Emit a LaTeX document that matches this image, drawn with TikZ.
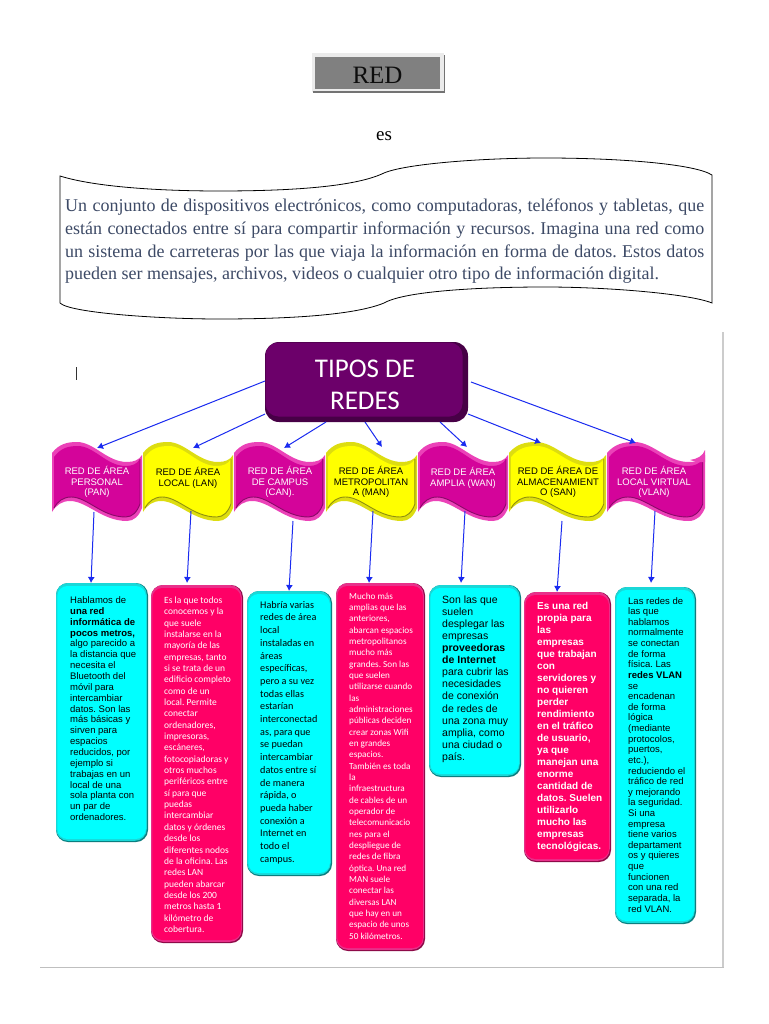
\documentclass[tikz,border=0pt]{standalone}
\usepackage{fontspec}
\setmainfont{Liberation Serif}
\newfontfamily\arialf{Liberation Sans}
\newfontfamily\calif{Carlito}
\usetikzlibrary{arrows.meta}
\frenchspacing
\definecolor{cymain}{HTML}{00FFFF}
\definecolor{cyedge}{HTML}{19D8D8}
\definecolor{cydark}{HTML}{0A7F80}
\definecolor{pkmain}{HTML}{FF0066}
\definecolor{pkedge}{HTML}{E8308A}
\definecolor{pkdark}{HTML}{8E0A48}
\definecolor{mgmain}{HTML}{D4049A}
\definecolor{mgedge}{HTML}{EB42B8}
\definecolor{mgdark}{HTML}{8A0A68}
\definecolor{ylmain}{HTML}{FFFF00}
\definecolor{yledge}{HTML}{DDDD10}
\definecolor{yldark}{HTML}{8F8F10}
\definecolor{arrowblue}{HTML}{1A2BF0}
\definecolor{slatetext}{HTML}{3D4A66}
\definecolor{tiposmain}{HTML}{6C006A}
\definecolor{tiposdark}{HTML}{470046}
\tikzset{
  arr/.style={draw=arrowblue,line width=1pt,-{Latex[length=6pt,width=7pt]}},
  bodyA/.style={anchor=north west,inner sep=0pt,align=left,text=black},
  bodyW/.style={anchor=north west,inner sep=0pt,align=left,text=white},
  bannertext/.style={inner sep=0pt,align=center,font={\arialf\fontsize{9.5}{10.6}\selectfont}},
  boxcore/.style={rounded corners=12pt,inner sep=0pt,outer sep=0pt},
}
% rounded box: name,x0,y0,x1,y1,colour prefix
\newcommand\rbox[6]{%
  \pgfmathsetmacro\rw{#4-#2}\pgfmathsetmacro\rh{#5-#3}%
  \pgfmathsetmacro\rcx{(#2+#4)/2}\pgfmathsetmacro\rcy{(#3+#5)/2}%
  \node[boxcore,fill=#6dark,minimum width=\rw pt,minimum height=\rh pt] (#1) at (\rcx,\rcy) {};
  \pgfmathsetmacro\rw{#4-#2-1.2}\pgfmathsetmacro\rh{#5-#3-1.2}%
  \node[boxcore,fill=#6edge,minimum width=\rw pt,minimum height=\rh pt] at (\rcx-0.6,\rcy-0.6) {};
  \pgfmathsetmacro\rw{#4-#2-3.5}\pgfmathsetmacro\rh{#5-#3-6}%
  \node[boxcore,rounded corners=10pt,fill=#6main,minimum width=\rw pt,minimum height=\rh pt] at (\rcx-0.4,\rcy) {};
}
% wave outline in a 90-wide local frame; #1 inset of the top edge, #2 inset of the bottom edge
\newcommand\wavepath[2]{(0,11+#1) .. controls (7,2+#1) and (15,0+#1) .. (25,0+#1) .. controls (42,0+#1) and (55,20+#1) .. (75,20+#1) .. controls (82,20+#1) and (87,18+#1) .. (90,13+#1) -- (90,66-#2) .. controls (87,74-#2) and (82,79-#2) .. (75,79-#2) .. controls (50,79-#2) and (35,59-#2) .. (18,59-#2) .. controls (10,59-#2) and (4,63-#2) .. (0,70-#2) -- cycle}
% banner: x0,x1,colour prefix
\newcommand\banner[3]{%
  \pgfmathsetmacro\bs{(#2-#1)/90}%
  \begin{scope}[shift={(#1,442)},xscale=\bs]
    \fill[#3edge] \wavepath{0}{0};
    \begin{scope}[xshift=2pt,xscale=0.955]
      \fill[#3main] \wavepath{4}{4};
      \draw[#3dark,line width=0.9pt] (90,17) -- (90,62) .. controls (87,70) and (82,75) .. (75,75) .. controls (50,75) and (35,55) .. (18,55) .. controls (10,55) and (4,59) .. (0,66);
    \end{scope}
  \end{scope}
}
\begin{document}
\begin{tikzpicture}[x=1pt,y=-1pt]
\useasboundingbox (0,0) rectangle (768,1024);
\fill[white] (0,0) rectangle (768,1024);

% page frame of the lower picture
\fill[black!20] (722.3,332) rectangle (724,968);
\fill[black!25] (40,966.6) rectangle (724,968.2);

% RED
\fill[black!8] (311.5,53) rectangle (444,92);
\fill[black!55] (313,91.5) rectangle (445,93.5);
\fill[black!55] (443.5,55) rectangle (445,93.5);
\node[fill=black!50,minimum width=125pt,minimum height=32pt,inner sep=0pt] (redbg) at (377.5,73) {};
\node[font={\fontsize{25}{27}\selectfont},text=black!95,inner sep=0pt] (red) at (377.5,75) {RED};
\node[font={\fontsize{19}{21}\selectfont}] (es) at (384,136) {es};

% scroll
\draw[line width=0.8pt,fill=white] (60,176)
  .. controls (95,187) and (160,191) .. (219,191)
  .. controls (290,191) and (355,187) .. (384,173)
  .. controls (405,164) and (480,158) .. (545,158)
  .. controls (620,158) and (695,164) .. (712,175)
  -- (712,303)
  .. controls (690,294) and (610,287) .. (545,287)
  .. controls (480,287) and (405,291) .. (384,303)
  .. controls (355,315) and (290,319) .. (219,319)
  .. controls (160,319) and (70,313) .. (60,303)
  -- cycle;
\newcommand\jl[1]{\hbox to 639pt{#1}}
\node[anchor=north west,inner sep=0pt,align=left,text=slatetext,font={\fontsize{18}{22.7}\selectfont}] (def) at (65,199) {\jl{Un conjunto de dispositivos electrónicos, como computadoras, teléfonos y tabletas, que}\\
\jl{están conectados entre sí para compartir información y recursos. Imagina una red como}\\
\jl{un sistema de carreteras por las que viaja la información en forma de datos. Estos datos}\\
pueden ser mensajes, archivos, videos o cualquier otro tipo de información digital.};

% cursor mark
\fill[black!80] (75.5,367) rectangle (76.7,380);

% banners
\banner{52}{142}{mg}
\banner{143}{233}{yl}
\banner{234}{325}{mg}
\banner{326}{417}{yl}
\banner{418}{508}{mg}
\banner{509}{606}{yl}
\banner{607}{705}{mg}
\fill[mgedge] (690,460) .. controls (697,459) and (703,456) .. (705,450) -- (705,462) -- (697,462) -- cycle;

\node[bannertext,text=white] (b1) at (97,482) {RED DE ÁREA\\PERSONAL\\(PAN)};
\node[bannertext,text=black] (b2) at (188,478) {RED DE ÁREA\\LOCAL (LAN)};
\node[bannertext,text=white] (b3) at (280,482) {RED DE ÁREA\\DE CAMPUS\\(CAN).};
\node[bannertext,text=black] (b4) at (371,482) {RED DE ÁREA\\METROPOLITAN\\A (MAN)};
\node[bannertext,text=white] (b5) at (463,478) {RED DE ÁREA\\AMPLIA (WAN)};
\node[bannertext,text=black] (b6) at (558,482) {RED DE ÁREA DE\\ALMACENAMIENT\\O (SAN)};
\node[bannertext,text=white] (b7) at (654,482) {RED DE ÁREA\\LOCAL VIRTUAL\\(VLAN)};

% main box
\node[rounded corners=14pt,fill=tiposdark,minimum width=203pt,minimum height=80pt,inner sep=0pt] (tipos) at (366.5,382) {};
\node[rounded corners=13pt,fill=tiposmain,minimum width=197pt,minimum height=74pt,inner sep=0pt] (tiposin) at (364,379.5) {};
\node[align=center,text=white,font={\calif\fontsize{27}{32.5}\selectfont},inner sep=0pt] (tipost) at (365,385) {TIPOS DE\\REDES};

% boxes
\rbox{c1}{56}{583}{148}{842}{cy}
\rbox{c2}{151}{585}{243}{943}{pk}
\rbox{c3}{247}{591}{332}{876}{cy}
\rbox{c4}{336}{583}{425}{951}{pk}
\rbox{c5}{429}{585}{521}{777}{cy}
\rbox{c6}{524}{592}{611}{862}{pk}
\rbox{c7}{615}{587}{696}{924}{cy}

\node[bodyA,font={\arialf\fontsize{9.5}{10.85}\selectfont}] (t1) at (70,596.5) {Hablamos de\\{\bfseries una red}\\{\bfseries informática de}\\{\bfseries pocos metros,}\\algo parecido a\\la distancia que\\necesita el\\Bluetooth del\\móvil para\\intercambiar\\datos. Son las\\más básicas y\\sirven para\\espacios\\reducidos, por\\ejemplo si\\trabajas en un\\local de una\\sola planta con\\un par de\\ordenadores.};
\node[bodyW,font={\calif\fontsize{9.5}{11.35}\selectfont}] (t2) at (164,596.5) {Es la que todos\\conocemos y la\\que suele\\instalarse en la\\mayoría de las\\empresas, tanto\\si se trata de un\\edificio completo\\como de un\\local. Permite\\conectar\\ordenadores,\\impresoras,\\escáneres,\\fotocopiadoras y\\otros muchos\\periféricos entre\\sí para que\\puedas\\intercambiar\\datos y órdenes\\desde los\\diferentes nodos\\de la oficina. Las\\redes LAN\\pueden abarcar\\desde los 200\\metros hasta 1\\kilómetro de\\cobertura.};
\node[bodyA,font={\calif\fontsize{10.2}{12.7}\selectfont}] (t3) at (260,601) {Habría varias\\redes de área\\local\\instaladas en\\áreas\\específicas,\\pero a su vez\\todas ellas\\estarían\\interconectad\\as, para que\\se puedan\\intercambiar\\datos entre sí\\de manera\\rápida, o\\pueda haber\\conexión a\\Internet en\\todo el\\campus.};
\node[bodyW,font={\calif\fontsize{9.2}{11.33}\selectfont}] (t4) at (349,592.5) {Mucho más\\amplias que las\\anteriores,\\abarcan espacios\\metropolitanos\\mucho más\\grandes. Son las\\que suelen\\utilizarse cuando\\las\\administraciones\\públicas deciden\\crear zonas Wifi\\en grandes\\espacios.\\También es toda\\la\\infraestructura\\de cables de un\\operador de\\telecomunicacio\\nes para el\\despliegue de\\redes de fibra\\óptica. Una red\\MAN suele\\conectar las\\diversas LAN\\que hay en un\\espacio de unos\\50 kilómetros.};
\node[bodyA,font={\arialf\fontsize{10.5}{12.08}\selectfont}] (t5) at (442,595.5) {Son las que\\suelen\\desplegar las\\empresas\\{\bfseries proveedoras}\\{\bfseries de Internet}\\para cubrir las\\necesidades\\de conexión\\de redes de\\una zona muy\\amplia, como\\una ciudad o\\país.};
\node[bodyW,font={\arialf\bfseries\fontsize{10}{12}\selectfont}] (t6) at (537,602.5) {Es una red\\propia para\\las\\empresas\\que trabajan\\con\\servidores y\\no quieren\\perder\\rendimiento\\en el tráfico\\de usuario,\\ya que\\manejan una\\enorme\\cantidad de\\datos. Suelen\\utilizarlo\\mucho las\\empresas\\tecnológicas.};
\node[bodyA,font={\arialf\fontsize{9.5}{10.62}\selectfont}] (t7) at (628,597) {Las redes de\\las que\\hablamos\\normalmente\\se conectan\\de forma\\física. Las\\{\bfseries redes VLAN}\\se\\encadenan\\de forma\\lógica\\(mediante\\protocolos,\\puertos,\\etc.),\\reduciendo el\\tráfico de red\\y mejorando\\la seguridad.\\Si una\\empresa\\tiene varios\\departament\\os y quieres\\que\\funcionen\\con una red\\separada, la\\red VLAN.};

% free ends of the connectors
\coordinate (a1s) at (265,381); \coordinate (a1e) at (97,448);
\coordinate (a2s) at (265,414); \coordinate (a2e) at (193,448);
\coordinate (a3s) at (326,422); \coordinate (a3e) at (284,448);
\coordinate (a4s) at (365,422); \coordinate (a4e) at (382,447);
\coordinate (a5s) at (440,422); \coordinate (a5e) at (467,447);
\coordinate (a6s) at (468,414); \coordinate (a6e) at (541,443);
\coordinate (a7s) at (471,382); \coordinate (a7e) at (636,443);
\draw[arr] (a1s) -- (a1e);
\draw[arr] (a2s) -- (a2e);
\draw[arr] (a3s) -- (a3e);
\draw[arr] (a4s) -- (a4e);
\draw[arr] (a5s) -- (a5e);
\draw[arr] (a6s) -- (a6e);
\draw[arr] (a7s) -- (a7e);

\coordinate (d1s) at (94,512); \coordinate (d1e) at (91,583);
\coordinate (d2s) at (191,511); \coordinate (d2e) at (187,583);
\coordinate (d3s) at (293,521); \coordinate (d3e) at (289,591);
\coordinate (d4s) at (373,511); \coordinate (d4e) at (369,583);
\coordinate (d5s) at (465,511); \coordinate (d5e) at (461,583);
\coordinate (d6s) at (562,521); \coordinate (d6e) at (557,592);
\coordinate (d7s) at (655,511); \coordinate (d7e) at (651,583);
\draw[arr] (d1s) -- (d1e);
\draw[arr] (d2s) -- (d2e);
\draw[arr] (d3s) -- (d3e);
\draw[arr] (d4s) -- (d4e);
\draw[arr] (d5s) -- (d5e);
\draw[arr] (d6s) -- (d6e);
\draw[arr] (d7s) -- (d7e);
\end{tikzpicture}
\end{document}
